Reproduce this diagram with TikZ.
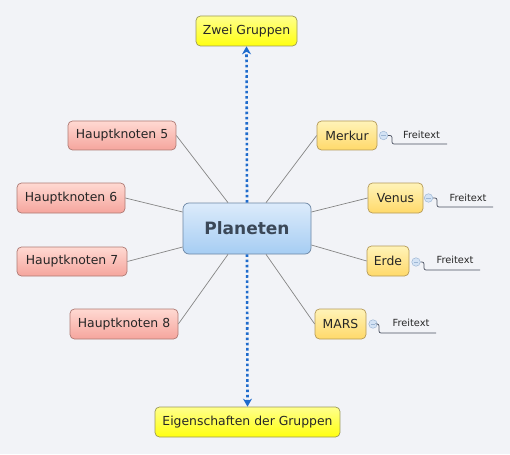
\documentclass[tikz,border=0pt]{standalone}
\usepackage{fontspec}
\setmainfont{DejaVu Sans}
\usetikzlibrary{arrows.meta,calc}
\definecolor{bg}{HTML}{F2F3F7}
\definecolor{lin}{HTML}{858585}
\definecolor{arr}{HTML}{1F6BCC}
\definecolor{gtop}{HTML}{FFFF8C}
\definecolor{gbot}{HTML}{FFFF10}
\definecolor{gdraw}{HTML}{9C9A58}
\definecolor{ttop}{HTML}{FFF3B8}
\definecolor{tbot}{HTML}{FFD96A}
\definecolor{tdraw}{HTML}{B59A58}
\definecolor{htop}{HTML}{FFD9D2}
\definecolor{hbot}{HTML}{F5A59D}
\definecolor{hdraw}{HTML}{AE7A74}
\definecolor{ctop}{HTML}{DCEBFB}
\definecolor{cbot}{HTML}{A6CDF3}
\definecolor{cdraw}{HTML}{6C86A4}
\definecolor{ctext}{HTML}{3B4858}
\definecolor{txt}{HTML}{262626}
\definecolor{ktop}{HTML}{D4E3F5}
\definecolor{kdraw}{HTML}{9DB6D4}
\definecolor{ul}{HTML}{4A5060}
\tikzset{
  base/.style={draw, rounded corners=4.5pt, inner sep=0pt, line width=0.7pt, text=txt, font=\fontsize{12.4}{14}\selectfont},
  gelb/.style={base, draw=gdraw, top color=gtop, bottom color=gbot},
  topic/.style={base, draw=tdraw, top color=ttop, bottom color=tbot},
  haupt/.style={base, draw=hdraw, top color=htop, bottom color=hbot},
  zentral/.style={base, draw=cdraw, top color=ctop, bottom color=cbot, text=ctext, font=\bfseries\fontsize{17}{19}\selectfont, rounded corners=6pt},
  verb/.style={draw=lin, line width=0.7pt},
  dotarrow/.style={draw=arr, line width=2.6pt, dash pattern=on 2.6pt off 2.6pt, -{Stealth[length=8pt,width=9pt]}},
  knopf/.style={circle, draw=kdraw, fill=ktop, inner sep=0pt, minimum size=8.5pt, line width=0.5pt},
  frei/.style={inner sep=0pt, font=\fontsize{9.8}{11}\selectfont, text=txt},
  unter/.style={draw=ul, line width=0.7pt, rounded corners=2pt}
}
\begin{document}
\begin{tikzpicture}[x=1pt,y=-1pt]
\useasboundingbox (0,0) rectangle (510,454);
\fill[bg] (0,0) rectangle (510,454);

% central
\node[zentral, minimum width=128pt, minimum height=51pt] (c) at (247,228.5) {Planeten};

% floating
\node[gelb, minimum width=101pt, minimum height=30pt] (zg) at (246.5,31) {Zwei Gruppen};
\node[gelb, minimum width=185pt, minimum height=30pt] (eg) at (247.5,422) {Eigenschaften der Gruppen};

% left
\node[haupt, minimum width=108pt, minimum height=29pt] (h5) at (122,135.5) {Hauptknoten 5};
\node[haupt, minimum width=108pt, minimum height=30pt] (h6) at (71,198) {Hauptknoten 6};
\node[haupt, minimum width=110pt, minimum height=29pt] (h7) at (72,261.5) {Hauptknoten 7};
\node[haupt, minimum width=108pt, minimum height=30pt] (h8) at (124,324) {Hauptknoten 8};

% right
\node[topic, minimum width=60pt, minimum height=29pt] (me) at (347,135.5) {Merkur};
\node[topic, minimum width=55pt, minimum height=30pt] (ve) at (395.5,198) {Venus};
\node[topic, minimum width=42pt, minimum height=30pt] (er) at (388,261) {Erde};
\node[topic, minimum width=51pt, minimum height=30pt] (ma) at (340.5,324) {MARS};

% anchor points on central
\coordinate (p5) at ([xshift=-19pt]c.north);
\coordinate (pm) at ([xshift=19pt]c.north);
\coordinate (p6) at ([yshift=16.5pt]c.west);
\coordinate (p7) at ([yshift=-18.5pt]c.west);
\coordinate (pv) at ([yshift=16.5pt]c.east);
\coordinate (pe) at ([yshift=-16.5pt]c.east);
\coordinate (p8) at ([xshift=-19pt]c.south);
\coordinate (pa) at ([xshift=19pt]c.south);

\draw[verb] (h5.east) -- (p5);
\draw[verb] (h6.east) -- (p6);
\draw[verb] (h7.east) -- (p7);
\draw[verb] (h8.east) -- (p8);
\draw[verb] (me.west) -- (pm);
\draw[verb] (ve.west) -- (pv);
\draw[verb] (er.west) -- (pe);
\draw[verb] (ma.west) -- (pa);

% dotted arrows
\draw[dotarrow] (c.north) -- (zg.south);
\draw[dotarrow] (c.south) -- (eg.north);

% Freitext markers
\foreach \n/\cx/\cy/\ux/\uy/\ue/\tx/\ty in {me/383.5/135.5/392/144/447/421.5/134.5, ve/428.5/198/437/207/493/468/198, er/416/262/424/270/480/455/260, ma/373/324/379/333/436/411/323}{
  \node[knopf] (k\n) at (\cx,\cy) {};
  \draw[kdraw, line width=0.6pt] ([xshift=-2.2pt]k\n.center) -- ([xshift=2.2pt]k\n.center);
  \node[frei] (f\n) at (\tx,\ty) {Freitext};
  \coordinate (u\n) at (\ue,\uy);
  \draw[unter] (k\n.east) -| (\ux,\uy) -- (u\n);
}
\end{tikzpicture}
\end{document}
